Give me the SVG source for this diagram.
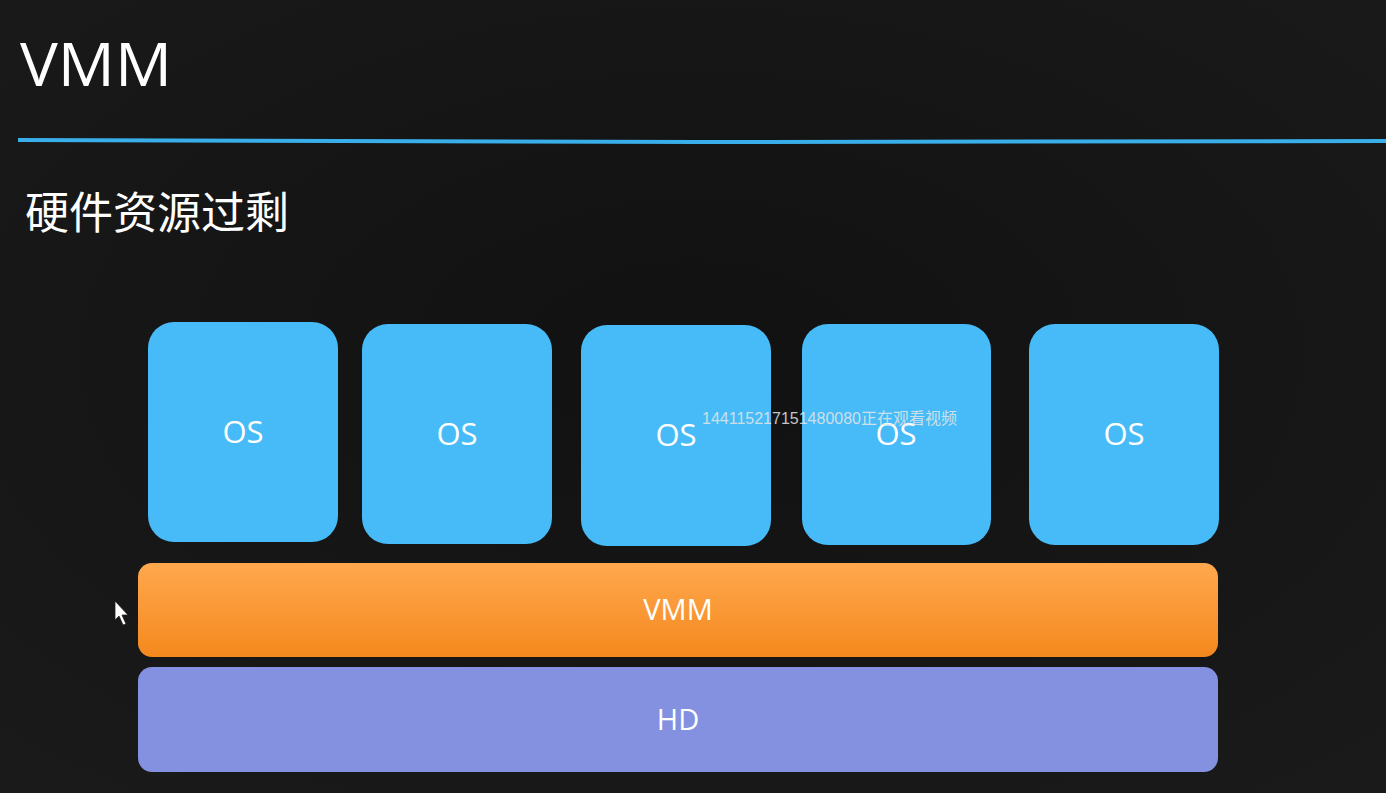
<svg xmlns="http://www.w3.org/2000/svg" width="1386" height="793" viewBox="0 0 1386 793">
<defs>
<linearGradient id="vmmGrad" x1="0" y1="0" x2="0" y2="1">
<stop offset="0" stop-color="#ffa84e"/>
<stop offset="1" stop-color="#f4891d"/>
</linearGradient>
<radialGradient id="bg" cx="0.5" cy="0.45" r="0.8">
<stop offset="0" stop-color="#111111"/>
<stop offset="1" stop-color="#1b1b1b"/>
</radialGradient>
</defs>
<style>
.os rect{fill:#47bbf7;}
.lbl{font-family:"Open Sans","Noto Sans","Liberation Sans",sans-serif;fill:#ffffff;text-anchor:middle;}
.os text{font-size:31px;}
</style>
<rect width="1386" height="793" fill="url(#bg)"/>
<text x="20" y="86" font-family="'Open Sans','Noto Sans','Liberation Sans',sans-serif" font-size="61" fill="#ffffff" textLength="152" lengthAdjust="spacingAndGlyphs">VMM</text>
<path d="M18 140 L700 142 L1386 141" stroke="#3aaee8" stroke-width="4" fill="none"/>
<text x="25" y="229" font-family="'Noto Sans CJK SC','Noto Sans',sans-serif" font-size="44" fill="#ffffff">硬件资源过剩</text>
<g id="os1" class="os"><rect x="148" y="322" width="190" height="220" rx="26"/><text class="lbl" x="243" y="443">OS</text></g>
<g id="os2" class="os"><rect x="362" y="324" width="190" height="220" rx="26"/><text class="lbl" x="457" y="445">OS</text></g>
<g id="os3" class="os"><rect x="581" y="325" width="190" height="221" rx="26"/><text class="lbl" x="676" y="446">OS</text></g>
<g id="os4" class="os"><rect x="802" y="324" width="189" height="221" rx="26"/><text class="lbl" x="896" y="445">OS</text></g>
<g id="os5" class="os"><rect x="1029" y="324" width="190" height="221" rx="26"/><text class="lbl" x="1124" y="445">OS</text></g>
<g id="vmm"><rect x="138" y="563" width="1080" height="94" rx="14" fill="url(#vmmGrad)"/><text class="lbl" x="678" y="620" font-size="29">VMM</text></g>
<g id="hd"><rect x="138" y="667" width="1080" height="105" rx="14" fill="#8491e0"/><text class="lbl" x="678" y="730" font-size="29">HD</text></g>
<g id="connectors"></g>
<text x="702" y="424" font-family="'Liberation Sans','Noto Sans CJK SC',sans-serif" font-size="16" fill="#e6e6e6" fill-opacity="0.85">144115217151480080正在观看视频</text>
<polygon points="115,601 115,620 119,616 123,625 126,624 122,615 128,615" fill="#ffffff" stroke="#222" stroke-width="0.8"/>
</svg>
